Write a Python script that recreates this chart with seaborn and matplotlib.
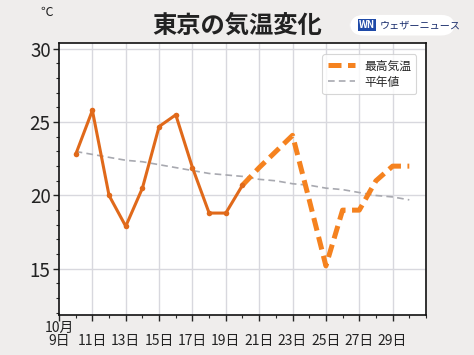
import numpy as np
import pandas as pd
import matplotlib
matplotlib.use("Agg")
import matplotlib.pyplot as plt
from matplotlib.ticker import MultipleLocator, FixedLocator
from matplotlib.patches import FancyBboxPatch
import seaborn as sns

# --- data ---
obs_days = [10, 11, 12, 13, 14, 15, 16, 17, 18, 19, 20]
obs_high = [22.8, 25.8, 20.0, 17.9, 20.5, 24.7, 25.5, 21.9, 18.8, 18.8, 20.7]

fc_days = [20, 21, 22, 23, 24, 25, 26, 27, 28, 29, 30]
fc_high = [20.7, 21.9, 23.0, 24.1, 19.7, 15.2, 19.0, 19.0, 21.0, 22.0, 22.0]

norm_days = list(range(10, 31))
norm_high = [23.0, 22.8, 22.6, 22.4, 22.3, 22.1, 21.9, 21.7, 21.5, 21.4, 21.3,
             21.1, 21.0, 20.8, 20.7, 20.5, 20.4, 20.2, 20.0, 19.9, 19.7]

tick_days = list(range(9, 30, 2))
tick_labels = ["10月\n9日"] + [f"\n{d}日" for d in tick_days[1:]]

obs = pd.DataFrame({"day": obs_days, "temp": obs_high})
fc = pd.DataFrame({"day": fc_days, "temp": fc_high})
norm = pd.DataFrame({"day": norm_days, "temp": norm_high})

sns.set_style("ticks")
plt.rcParams["font.family"] = ["Noto Sans CJK JP", "DejaVu Sans"]

bg = "#efedec"
fig = plt.figure(figsize=(4.74, 3.55), dpi=100, facecolor=bg)
ax = fig.add_axes([0.1245, 0.1127, 0.7742, 0.7663])
ax.set_facecolor("white")

sns.lineplot(data=norm, x="day", y="temp", ax=ax, color="#a8a9b0", linewidth=1.2,
             linestyle=(0, (4, 2.5)), label="平年値", zorder=3)
sns.lineplot(data=fc, x="day", y="temp", ax=ax, color="#f5821f", linewidth=3.6,
             linestyle=(0, (2.6, 1.3)), label="最高気温", zorder=4)
sns.lineplot(data=obs, x="day", y="temp", ax=ax, color="#e0691a", linewidth=2.2,
             marker="o", markersize=4, markeredgewidth=0, zorder=5)

ax.set_xlim(9, 31)
ax.set_ylim(11.85, 30.4)
ax.xaxis.set_major_locator(FixedLocator(tick_days))
ax.set_xticklabels(tick_labels, fontsize=10, color="#222222", linespacing=0.95)
ax.xaxis.set_minor_locator(MultipleLocator(1))
ax.yaxis.set_major_locator(FixedLocator([15, 20, 25, 30]))
ax.yaxis.set_minor_locator(MultipleLocator(1))
ax.tick_params(axis="y", labelsize=13.5, colors="#222222", length=4, width=1, pad=2)
ax.tick_params(axis="x", length=4, width=1, pad=0)
ax.tick_params(which="minor", length=2.5, width=0.8)
ax.set_xlabel("")
ax.set_ylabel("")

# grid at odd days and every 5 degrees
for d in tick_days[1:] + [31]:
    ax.axvline(d, color="#d8d8de", linewidth=1.0, zorder=1)
for t in [15, 20, 25, 30]:
    ax.axhline(t, color="#d8d8de", linewidth=1.0, zorder=1)

for s in ax.spines.values():
    s.set_color("#111111")
    s.set_linewidth(1.2)

handles, labels = ax.get_legend_handles_labels()
order = [labels.index("最高気温"), labels.index("平年値")]
leg = ax.legend([handles[i] for i in order], [labels[i] for i in order],
                loc="upper right", fontsize=8.5, frameon=True, handlelength=2.3,
                handletextpad=0.8, borderpad=0.45, labelspacing=0.25,
                bbox_to_anchor=(0.99, 0.98))
leg.get_frame().set_edgecolor("#cccccc")
leg.get_frame().set_linewidth(0.8)

fig.text(0.5, 0.928, "東京の気温変化", ha="center", va="center", fontsize=17.5,
         fontweight="bold", color="#222222")
fig.text(0.099, 0.965, "℃", ha="center", va="center", fontsize=9, color="#222222")

# logo
fig.patches.append(FancyBboxPatch((0.738, 0.9), 0.222, 0.058,
                                  boxstyle="round,pad=0,rounding_size=0.029",
                                  transform=fig.transFigure, facecolor="white",
                                  edgecolor="none", mutation_aspect=1.33))
fig.text(0.775, 0.929, "WN", ha="center", va="center", fontsize=7, fontweight="bold",
         style="italic", color="white",
         bbox=dict(boxstyle="square,pad=0.1", facecolor="#1f4aa8", edgecolor="none"))
fig.text(0.8, 0.929, "ウェザーニュース", ha="left", va="center", fontsize=7.3,
         color="#1c2f6e")

fig.savefig("out.png", dpi=100, facecolor=bg)
